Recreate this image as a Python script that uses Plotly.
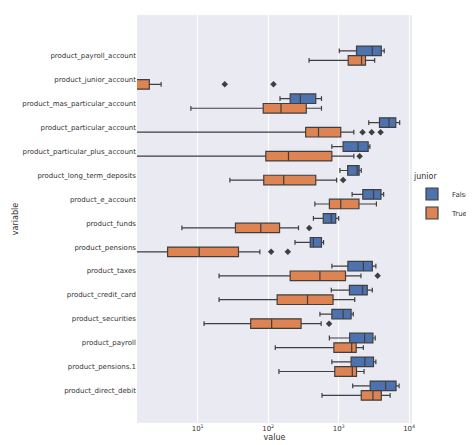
import plotly.graph_objects as go

categories = [
    "product_payroll_account", "product_junior_account", "product_mas_particular_account",
    "product_particular_account", "product_particular_plus_account", "product_long_term_deposits",
    "product_e_account", "product_funds", "product_pensions", "product_taxes",
    "product_credit_card", "product_securities", "product_payroll", "product_pensions.1",
    "product_direct_debit",
]

# junior = False (no junior_account row)
f_cats = [c for c in categories if c != "product_junior_account"]
f_low = [1020, 147, 2670, 800, 1040, 1550, 438, 240, 800, 785, 542, 738, 800, 1580]
f_q1 = [1790, 205, 3790, 1156, 1340, 2200, 604, 395, 1350, 1420, 800, 1430, 1500, 2800]
f_med = [3000, 286, 5170, 1880, 1830, 3120, 785, 438, 2240, 2180, 1156, 2330, 2350, 4640]
f_q3 = [4020, 473, 6450, 2620, 1950, 3980, 908, 570, 3000, 2540, 1500, 3060, 3120, 6510]
f_up = [4430, 570, 7330, 2770, 2090, 4340, 1000, 610, 3370, 3000, 1610, 3300, 3370, 7190]

# junior = True
t_low = [380, 1, 8.0, 1, 1, 28.6, 459, 5.97, 1, 20.1, 20.1, 12.3, 126, 142, 580]
t_q1 = [1365, 1, 85, 340, 92.5, 86.5, 738, 34.3, 3.74, 205, 134, 56.4, 855, 880, 2090]
t_med = [2110, 1, 152, 517, 194, 166, 1070, 78.5, 10.5, 542, 361, 112, 1530, 1560, 3060]
t_q3 = [2400, 2.06, 347, 1070, 800, 473, 1940, 145, 37.9, 1250, 832, 293, 1770, 1790, 4020]
t_up = [3240, 3.03, 570, 1640, 1640, 935, 3430, 269, 76.2, 2070, 1690, 564, 2240, 2290, 5370]

t_out_cat = ["product_junior_account", "product_junior_account",
             "product_particular_account", "product_particular_account", "product_particular_account",
             "product_particular_plus_account", "product_long_term_deposits", "product_funds",
             "product_pensions", "product_pensions", "product_taxes", "product_securities"]
t_out_val = [24.2, 119, 2180, 2940, 3930, 1980, 1156, 382, 110, 190, 3570, 731]

BLUE = "#4C72B0"
ORANGE = "#DD8452"
EDGE = "#3f3f3f"

fig = go.Figure()
fig.add_trace(go.Box(
    y=f_cats, q1=f_q1, median=f_med, q3=f_q3, lowerfence=f_low, upperfence=f_up,
    orientation="h", name="False", fillcolor=BLUE, line=dict(color=EDGE, width=1.2),
    offsetgroup="False", whiskerwidth=0.5,
))
fig.add_trace(go.Box(
    y=categories, q1=t_q1, median=t_med, q3=t_q3, lowerfence=t_low, upperfence=t_up,
    orientation="h", name="True", fillcolor=ORANGE, line=dict(color=EDGE, width=1.2),
    offsetgroup="True", whiskerwidth=0.5,
))
# outliers: points-only box trace sharing the True slot
fig.add_trace(go.Box(
    x=t_out_val, y=t_out_cat, orientation="h", offsetgroup="True",
    boxpoints="all", jitter=0, pointpos=0,
    fillcolor="rgba(0,0,0,0)", line=dict(color="rgba(0,0,0,0)", width=0),
    marker=dict(symbol="diamond", size=5, color=EDGE), showlegend=False,
))

fig.update_layout(
    width=474, height=445,
    boxmode="group", boxgap=0.2, boxgroupgap=0.0,
    plot_bgcolor="#EAEAF2", paper_bgcolor="white",
    font=dict(family="DejaVu Sans", size=7, color="#333333"),
    margin=dict(l=118, r=50, t=7, b=30),
    legend=dict(title=dict(text="junior"), x=1.0, y=0.55, xanchor="left",
                font=dict(size=7), bgcolor="rgba(0,0,0,0)", itemwidth=30),
)
fig.update_xaxes(
    type="log", range=[0.139, 4.04], title=dict(text="value", standoff=2),
    tickvals=[10, 100, 1000, 10000],
    ticktext=["10<sup>1</sup>", "10<sup>2</sup>", "10<sup>3</sup>", "10<sup>4</sup>"],
    gridcolor="white", zeroline=False, showline=False,
)
fig.update_yaxes(
    categoryorder="array", categoryarray=categories, autorange="reversed",
    title=dict(text="variable", standoff=2), showgrid=False, zeroline=False,
)
fig.write_html("out.html")
